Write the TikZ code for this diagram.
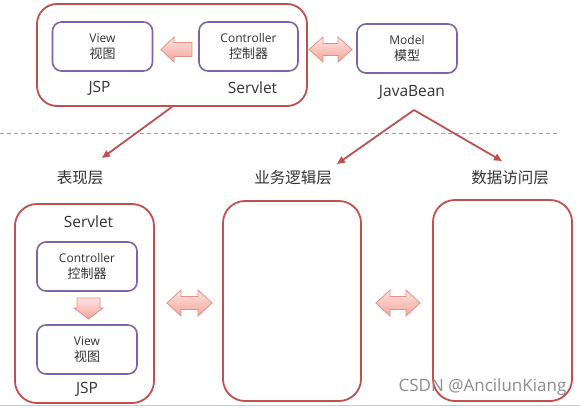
\documentclass[tikz,border=0pt]{standalone}
\usepackage{fontspec}
\setmainfont{Open Sans}
\newfontfamily\cjk{Noto Sans CJK SC}
\usetikzlibrary{arrows.meta}
\definecolor{boxred}{HTML}{C0504D}
\definecolor{boxpurple}{HTML}{8064A2}
\definecolor{arrfill1}{HTML}{FDE4E0}
\definecolor{arrfill2}{HTML}{F5A49D}
\definecolor{arrline}{HTML}{E39089}
\definecolor{dashred}{HTML}{E48484}
\definecolor{txt}{HTML}{333333}
\newcommand{\smallcjk}[1]{{\cjk\fontsize{13}{15}\selectfont #1}}
\begin{document}
\begin{tikzpicture}[x=1pt,y=-1pt,
  redbox/.style={draw=boxred,line width=1.8pt,rounded corners=20pt,inner sep=0pt},
  purplebox/.style={draw=boxpurple,line width=1.6pt,rounded corners=9pt,inner sep=0pt,
     minimum width=100pt,minimum height=49pt,align=center,font=\fontsize{12}{15}\selectfont,text=txt},
  biglabel/.style={font=\fontsize{15.5}{18}\selectfont,text=txt,inner sep=0pt},
  cjklabel/.style={font=\cjk\fontsize{15.5}{18}\selectfont,text=txt,inner sep=0pt},
  blockarrow/.style={draw=arrline,line width=0.8pt,line join=miter,top color=arrfill1,bottom color=arrfill2},
  connector/.style={draw=boxred,line width=1.8pt,-{Triangle[length=8pt,width=7pt]}}]
\useasboundingbox (0,0) rectangle (580,407);
\fill[white] (0,0) rectangle (580,407);
% ---- top part
\node[redbox,minimum width=270pt,minimum height=102pt] (mvc) at (172,55) {};
\node[purplebox] (view) at (102.5,46.5) {View\\[0.5pt]\smallcjk{视图}};
\node[purplebox,minimum width=99pt] (ctrl) at (248.5,46.5) {Controller\\[0.5pt]\smallcjk{控制器}};
\node[purplebox] (model) at (407,48.5) {Model\\[0.5pt]\smallcjk{模型}};
\node[biglabel] (jsp) at (99.5,88) {JSP};
\node[biglabel] (servlet) at (252.5,88) {Servlet};
\node[biglabel] (javabean) at (412,92) {JavaBean};
% block arrows top
\draw[blockarrow] (161,49.5) -- (174,37) -- (174,42.5) -- (192,42.5) -- (192,56.5) -- (174,56.5) -- (174,62) -- cycle;
\draw[blockarrow] (309,49.5) -- (323,37) -- (323,43.5) -- (338,43.5) -- (338,37) -- (352,49.5) -- (338,62) -- (338,55.5) -- (323,55.5) -- (323,62) -- cycle;
% dashed separator
\coordinate (dashL) at (0,133);
\coordinate (dashR) at (557,133);
\draw[dashred,line width=0.7pt,dash pattern=on 4pt off 3pt] (dashL) -- (dashR);
% layer labels
\node[cjklabel] (pres) at (80,178) {表现层};
\node[cjklabel] (biz) at (293,178) {业务逻辑层};
\node[cjklabel] (data) at (510,178) {数据访问层};
% connectors
\coordinate (jbs) at (414,110);
\coordinate (presT) at (102,158);
\coordinate (bizT) at (337,164);
\coordinate (dataT) at (502,161);
\draw[connector] (mvc.south) -- (presT);
\draw[connector] (jbs) -- (bizT);
\draw[connector] (jbs) -- (dataT);
% ---- bottom part
\node[redbox,rounded corners=22pt,minimum width=139pt,minimum height=199pt] (presbox) at (84.5,303.5) {};
\node[redbox,rounded corners=22pt,minimum width=138pt,minimum height=200pt] (bizbox) at (292,301) {};
\node[redbox,rounded corners=22pt,minimum width=139pt,minimum height=201pt] (databox) at (502.5,300.5) {};
\node[biglabel] (servlet2) at (88.5,222) {Servlet};
\node[purplebox] (ctrl2) at (87,266.5) {Controller\\[0.5pt]\smallcjk{控制器}};
\node[purplebox] (view2) at (87,349.5) {View\\[0.5pt]\smallcjk{视图}};
\node[biglabel] (jsp2) at (87,389) {JSP};
\draw[blockarrow] (77,298) -- (100,298) -- (100,308) -- (103,308) -- (88.5,319) -- (74,308) -- (77,308) -- cycle;
\draw[blockarrow] (167,303) -- (181,290) -- (181,296.5) -- (198,296.5) -- (198,290) -- (212,303) -- (198,316) -- (198,309.5) -- (181,309.5) -- (181,316) -- cycle;
\draw[blockarrow] (376,303) -- (390,290) -- (390,296.5) -- (406,296.5) -- (406,290) -- (420,303) -- (406,316) -- (406,309.5) -- (390,309.5) -- (390,316) -- cycle;
% bottom border line and watermark
\coordinate (bl) at (0,405.5);
\coordinate (br) at (580,405.5);
\draw[black!20,line width=0.8pt] (bl) -- (br);
\node[text=black!45,font=\fontsize{17}{19}\selectfont,inner sep=0pt] (wm) at (482.5,387) {CSDN @AncilunKiang};
\end{tikzpicture}
\end{document}
